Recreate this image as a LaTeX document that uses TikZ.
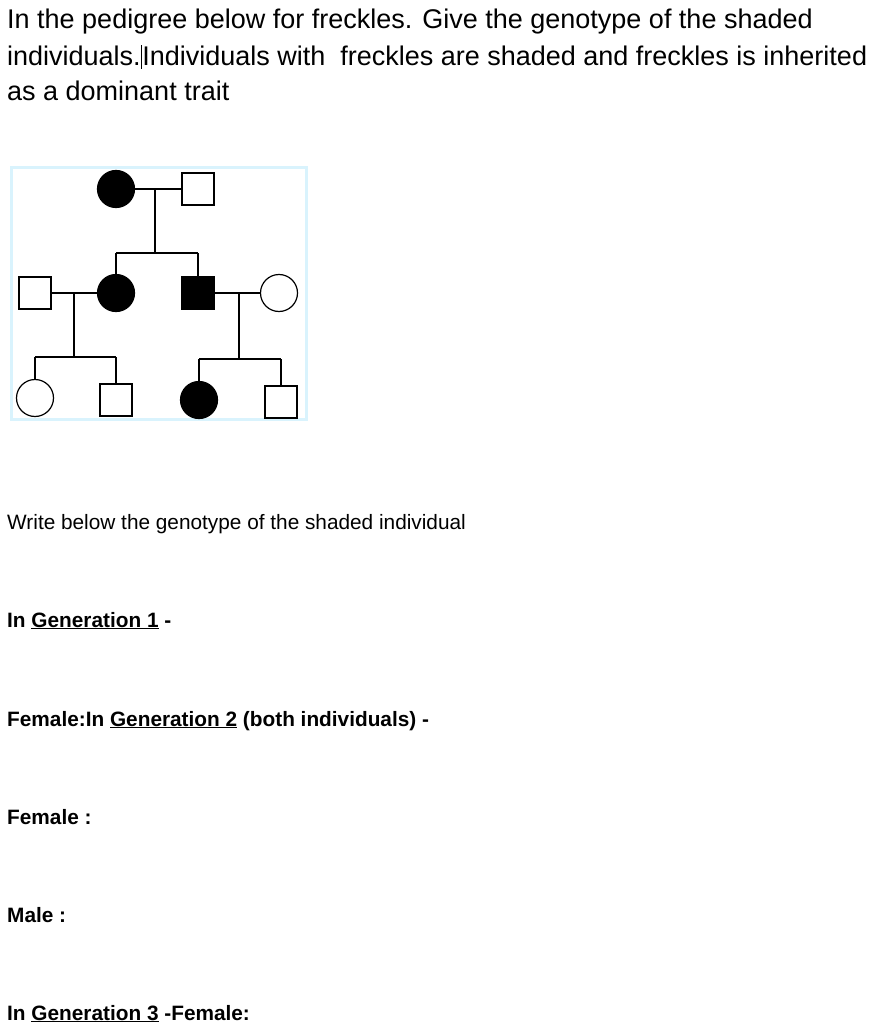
\documentclass[tikz,border=0pt]{standalone}
\usepackage{fontspec}
\setmainfont{Liberation Sans}
\begin{document}
\begin{tikzpicture}[x=1pt,y=-1pt,
  t/.style={anchor=base west,inner sep=0pt,font=\fontsize{27}{32}\selectfont},
  b/.style={anchor=base west,inner sep=0pt,font=\fontsize{20.8}{24}\selectfont\bfseries},
  ln/.style={line width=1.2pt},
  sq/.style={draw,line width=1.2pt,minimum size=32pt,inner sep=0pt,fill=white},
  ci/.style={draw,circle,line width=1.2pt,minimum size=37pt,inner sep=0pt,fill=white},
  fsq/.style={sq,fill=black},
  fci/.style={ci,fill=black}]
\useasboundingbox (0,0) rectangle (873,1024);
\node[t] (l1) at (7,29) {In the pedigree below for freckles. Give the genotype of the shaded};
\node[t] (l2) at (7,66) {individuals.\rule[-3pt]{1.5pt}{24pt}Individuals with\ \ freckles are shaded and freckles is inherited};
\node[t] (l3) at (7,101) {as a dominant trait};
\draw[draw=cyan!15,line width=3pt,fill=white] (11,168) rectangle (306,419);
\coordinate (m1) at (155,189);
\node[fci] (a) at (116,189) {};
\node[sq] (b) at (198,189) {};
\node[sq] (c) at (35,293) {};
\node[fci] (d) at (116,293) {};
\node[fsq] (e) at (198,293) {};
\node[ci] (f) at (279,293) {};
\node[ci] (g) at (35,398) {};
\node[sq] (h) at (116,400) {};
\node[fci] (i) at (199,400) {};
\node[sq] (j) at (281,402) {};
\draw[ln] (a) -- (b);
\draw[ln] (m1) -- (155,253) coordinate (s1);
\draw[ln] (116,253) -- (198,253);
\draw[ln] (116,253) -- (d.north);
\draw[ln] (198,253) -- (e.north);
\draw[ln] (c.east) -- (d.west);
\draw[ln] (74,293) -- (74,357);
\draw[ln] (35,357) -- (116,357);
\draw[ln] (35,357) -- (g.north);
\draw[ln] (116,357) -- (h.north);
\draw[ln] (e.east) -- (f.west);
\draw[ln] (239,293) -- (239,359);
\draw[ln] (199,359) -- (281,359);
\draw[ln] (199,359) -- (i.north);
\draw[ln] (281,359) -- (j.north);
\node[anchor=base west,inner sep=0pt,font=\fontsize{20.8}{24}\selectfont] (w) at (7,529) {Write below the genotype of the shaded individual};
\node[b] (g1) at (7,627) {In \underline{Generation 1} -};
\node[b] (g2) at (7,726) {Female:In \underline{Generation 2} (both individuals) -};
\node[b] (fe) at (7,824) {Female :};
\node[b] (ma) at (7,922) {Male :};
\node[b] (g3) at (7,1020) {In \underline{Generation 3} -Female:};
\end{tikzpicture}
\end{document}
